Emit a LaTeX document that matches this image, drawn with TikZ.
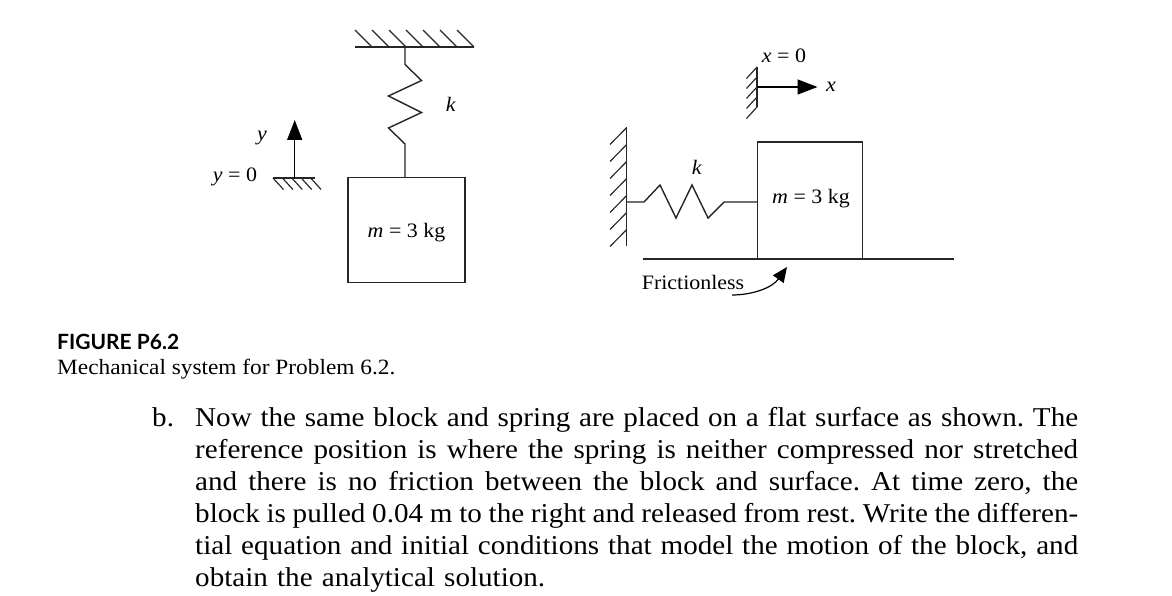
\documentclass[tikz,border=0pt]{standalone}
\usepackage{fontspec}
\setmainfont[FakeStretch=1.07]{Liberation Serif}
\newfontfamily\capfont{Lato}
\usetikzlibrary{arrows.meta}
\tikzset{
  ln/.style={line width=1.4pt,color=black!85,line join=miter},
  hatch/.style={line width=1.15pt,color=black!85},
  boxn/.style={draw=black!85,line width=1.4pt,fill=white,inner sep=0pt,outer sep=0pt,anchor=north west},
  lab/.style={inner sep=0pt,font=\fontsize{20.5}{23}\selectfont},
  body/.style={inner sep=0pt,anchor=base west,font=\fontsize{27.2}{32}\selectfont},
  arr/.style={line width=1.4pt,color=black,-{Triangle[length=20pt,width=15pt]}},
}
\begin{document}
\frenchspacing
\begin{tikzpicture}[x=1pt,y=-1pt]
\useasboundingbox[fill=white] (0,0) rectangle (1172,596);
% left figure
\coordinate (cl) at (355,47); \coordinate (cr) at (474,47); \coordinate (ct) at (405,47);
\draw[ln] (cl) -- (cr);
\foreach \i in {0,...,6} \draw[hatch] (355+17*\i,30) -- (372+17*\i,47);
\node[boxn,minimum width=117pt,minimum height=105pt] (mA) at (348,177.5) {};
\node[lab] (mAt) at (406.5,233) {\textit{m} = 3 kg};
\draw[ln] (ct) -- (405,64.5) -- (421.5,80.5) -- (388.5,96) -- (421.5,112.5) -- (388.5,128) -- (405,144) -- (mA.north -| ct);
\node[lab] (kA) at (451,104) {\textit{k}};
\coordinate (gl) at (273,178); \coordinate (gr) at (315,178); \coordinate (gm) at (294.7,178); \coordinate (yt) at (294.7,120);
\draw[ln] (gl) -- (gr);
\foreach \i in {0,...,4} \draw[hatch] (273+9.4*\i,178) -- (283.5+9.4*\i,189.5);
\draw[arr] (gm) -- (yt);
\node[lab] (yl) at (262,138) {\textit{y}};
\node[lab] (y0) at (235,177) {\textit{y} = 0};
% right figure
\node[boxn,minimum width=105.5pt,minimum height=116.5pt] (mB) at (757.2,142) {};
\coordinate (fl) at (643,259); \coordinate (fr) at (954,259);
\draw[ln] (fl) -- (fr);
\node[lab] (mBt) at (811,198.5) {\textit{m} = 3 kg};
\coordinate (wt) at (626.7,127.5); \coordinate (wb) at (626.7,245.7); \coordinate (ws) at (626.7,202);
\draw[ln] (wt) -- (wb);
\foreach \i in {0,...,6} \draw[hatch] (626.7,127.5+17*\i) -- (610,144.5+17*\i);
\draw[ln] (ws) -- (644,202) -- (660,185) -- (676,218) -- (692,185) -- (708,218) -- (724,202) -- (mB.west |- ws);
\node[lab] (kB) at (697,167) {\textit{k}};
\coordinate (xw1) at (757,67); \coordinate (xw2) at (757,107); \coordinate (xs) at (757,87); \coordinate (xe) at (817.5,87);
\draw[ln] (xw1) -- (xw2);
\foreach \i in {0,...,4} \draw[hatch] (757,67+10*\i) -- (746.5,78.5+10*\i);
\draw[arr] (xs) -- (xe);
\node[lab] (x0) at (784,55.5) {\textit{x} = 0};
\node[lab] (xl) at (831,87) {\textit{x}};
\node[lab] (fr1) at (693,282) {Frictionless};
\coordinate (cs) at (732,295); \coordinate (ce) at (787,267);
\draw[line width=1.2pt,color=black,-{Triangle[length=15pt,width=13pt]}] (cs) .. controls (752,295) and (772,288) .. (ce);
% caption
\node[inner sep=0pt,anchor=base west,font=\capfont\bfseries\fontsize{21}{24}\selectfont] (figt) at (57,349) {FIGURE P6.2};
\node[inner sep=0pt,anchor=base west,font=\fontsize{21.8}{24}\selectfont] (figc) at (57,374) {Mechanical system for Problem 6.2.};
% body
\node[body] (bb) at (152,426) {b.};
\node[body] (l1) at (195,426) {\makebox[883pt][s]{Now the same block and spring are placed on a flat surface as shown. The}};
\node[body] (l2) at (195,458) {\makebox[883pt][s]{reference position is where the spring is neither compressed nor stretched}};
\node[body] (l3) at (195,490) {\makebox[883pt][s]{and there is no friction between the block and surface. At time zero, the}};
\node[body] (l4) at (195,522) {\makebox[883pt][s]{block is pulled 0.04 m to the right and released from rest. Write the differen-}};
\node[body] (l5) at (195,554) {\makebox[883pt][s]{tial equation and initial conditions that model the motion of the block, and}};
\node[body] (l6) at (195,586) {\makebox[350pt][s]{obtain the analytical solution.}};
\end{tikzpicture}
\end{document}
